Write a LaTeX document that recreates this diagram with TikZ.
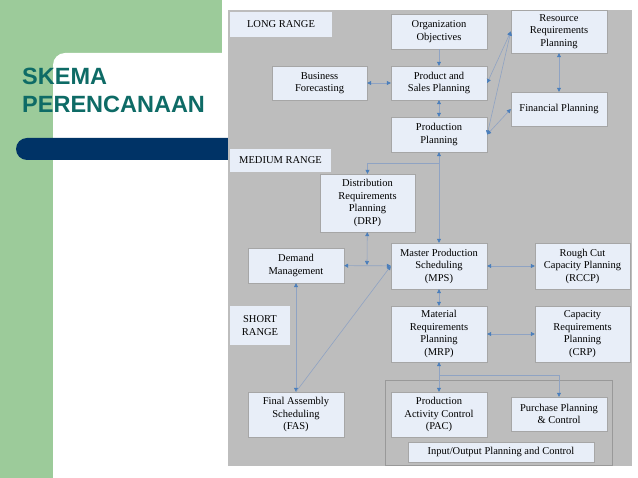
\documentclass[tikz,border=0pt]{standalone}
\usepackage{fontspec}
\setmainfont{Liberation Serif}
\newfontfamily\titlefont{Liberation Sans}
\usetikzlibrary{arrows.meta}
\definecolor{leafgreen}{HTML}{9CCB9A}
\definecolor{navybar}{HTML}{003366}
\definecolor{tealtxt}{HTML}{0E6B66}
\definecolor{panelgray}{HTML}{BDBDBD}
\definecolor{boxfill}{HTML}{E8EEF8}
\definecolor{linkline}{HTML}{8FA3C3}
\definecolor{tipblue}{HTML}{4A7EBB}
\tikzset{
  tp/.tip={Triangle[length=4pt,width=4pt,color=tipblue]},
  box/.style={draw=gray!70, fill=boxfill, inner sep=0pt, align=center,
    font=\fontsize{10.5}{12.5}\selectfont},
  link/.style={draw=linkline, line width=0.6pt, -tp},
  both/.style={link, tp-tp}
}
% place a box from its corners (pixels)
\newcommand{\pbox}[6][]{\node[box,#1,minimum width={#4-#2}, minimum height={#5-#3}] (#6) at ({(#2+#4)/2},{(#3+#5)/2})}
\begin{document}
\begin{tikzpicture}[x=1pt,y=-1pt]
\useasboundingbox (0,0) rectangle (638,478);

% slide background
\fill[leafgreen] (0,0) rectangle (222,478);
\fill[white] (222,0) rectangle (638,478);
\fill[white, rounded corners=12] (53,53) rectangle (240,500);
\fill[navybar, rounded corners=11] (16,138) rectangle (250,160);
\node[anchor=north west, text=tealtxt, align=left, inner sep=0pt,
  font=\titlefont\bfseries\fontsize{23.5}{28}\selectfont] (title) at (22,68) {SKEMA\\PERENCANAAN};

% diagram panel
\fill[panelgray] (228,10) rectangle (632,466);
\draw[gray!80, line width=0.8pt] (385,380) rectangle (612,465);

% range labels
\pbox[draw=none]{230}{12}{332}{37}{lr} {LONG RANGE};
\pbox[draw=none]{230}{149}{331}{172}{mr} {MEDIUM RANGE};
\pbox[draw=none]{230}{306}{290}{345}{sr} {SHORT\\RANGE};

% boxes
\pbox{391}{14}{487}{49}{obj} {Organization\\Objectives};
\pbox{511}{10}{607}{53}{rrp} {Resource\\Requirements\\Planning};
\pbox{272}{66}{367}{100}{bf} {Business\\Forecasting};
\pbox{391}{66}{487}{100}{psp} {Product and\\Sales Planning};
\pbox{511}{92}{607}{126}{fin} {Financial Planning};
\pbox{391}{117}{487}{152}{pp} {Production\\Planning};
\pbox{320}{174}{415}{232}{drp} {Distribution\\Requirements\\Planning\\(DRP)};
\pbox{248}{248}{344}{283}{dm} {Demand\\Management};
\pbox{391}{243}{487}{289}{mps} {Master Production\\Scheduling\\(MPS)};
\pbox{535}{243}{630}{289}{rccp} {Rough Cut\\Capacity Planning\\(RCCP)};
\pbox{391}{306}{487}{362}{mrp} {Material\\Requirements\\Planning\\(MRP)};
\pbox{535}{306}{630}{362}{crp} {Capacity\\Requirements\\Planning\\(CRP)};
\pbox{248}{392}{344}{437}{fas} {Final Assembly\\Scheduling\\(FAS)};
\pbox{391}{392}{487}{437}{pac} {Production\\Activity Control\\(PAC)};
\pbox{511}{397}{607}{431}{pur} {Purchase Planning\\\& Control};
\pbox{408}{442}{594}{462}{io} {Input/Output Planning and Control};

% junctions
\coordinate (jpp) at (439,163);
\coordinate (jdm) at (367,265);
\coordinate (jmrp) at (439,375);

% connectors
\draw[link] (obj) -- (psp);
\draw[both] (bf) -- (psp);
\draw[both] (psp) -- (pp);
\draw[both] (psp.east) -- (rrp.west);
\draw[both] (pp.east) -- (rrp.west);
\draw[both] (pp.east) -- (fin.west);
\draw[both] (rrp) -- (fin);
\draw[both] (pp) -- (mps);
\draw[link] (jpp) -| (drp);
\draw[both] (drp) -- (jdm);
\draw[both] (dm) -- (mps);
\draw[both] (dm) -- (fas);
\draw[link] (fas.north) -- (mps.west);
\draw[both] (mps) -- (rccp);
\draw[both] (mps) -- (mrp);
\draw[both] (mrp) -- (crp);
\draw[both] (mrp) -- (pac);
\draw[link] (jmrp) -| (pur);
\end{tikzpicture}
\end{document}
